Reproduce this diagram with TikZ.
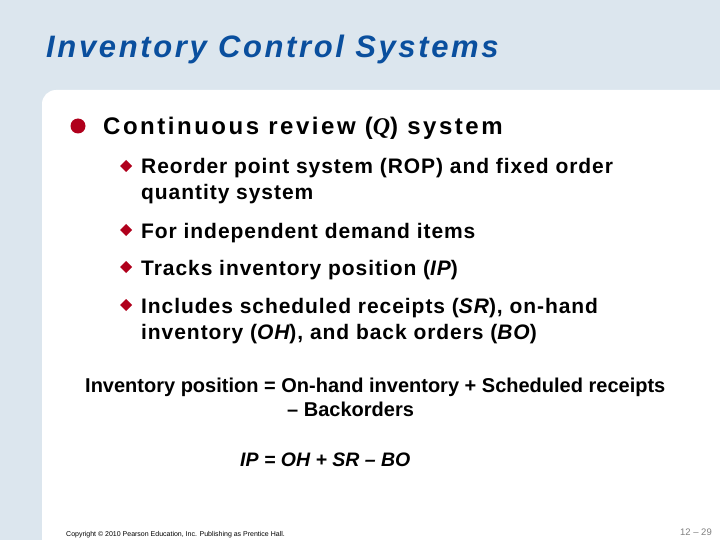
\documentclass[tikz,border=0pt]{standalone}
\usepackage{fontspec}
\setmainfont{Liberation Sans}
\newfontfamily\qfont{Liberation Serif}
\definecolor{bg}{HTML}{DCE6EE}
\definecolor{ttl}{HTML}{0A4F9E}
\definecolor{bul}{HTML}{B0001C}
\begin{document}
\begin{tikzpicture}[x=1pt,y=-1pt,
  txt/.style={anchor=base west,inner sep=0pt,font=\fontsize{21}{25}\selectfont\bfseries\addfontfeatures{LetterSpace=4.5}},
  big/.style={anchor=base west,inner sep=0pt,font=\fontsize{24}{28}\selectfont\bfseries\addfontfeatures{LetterSpace=10.5}},
  eq/.style={anchor=base west,inner sep=0pt,font=\fontsize{20}{22}\selectfont\bfseries}]
\useasboundingbox (0,0) rectangle (720,540);
\fill[bg] (0,0) rectangle (720,540);
\fill[white,rounded corners=14pt] (42,90) rectangle (740,560);
\node[anchor=base west,inner sep=0pt,text=ttl,font=\fontsize{31}{36}\selectfont\bfseries\itshape\addfontfeatures{LetterSpace=8.5}] (title) at (46,58) {Inventory Control Systems};
\fill[bul] (78,126) circle (7.5);
\node[big] (l1) at (103,135) {Continuous review ({\qfont\itshape Q}) system};
\foreach \y in {166,230,267,305}
  \fill[bul] (126,\y-6) -- (132,\y) -- (126,\y+6) -- (120,\y) -- cycle;
\node[txt] (a1) at (141,174) {Reorder point system (ROP) and fixed order};
\node[txt] (a2) at (141,200) {quantity system};
\node[txt] (b) at (141,238) {For independent demand items};
\node[txt] (c) at (141,275) {Tracks inventory position ({\itshape IP})};
\node[txt] (d1) at (141,313) {Includes scheduled receipts ({\itshape SR}), on-hand};
\node[txt] (d2) at (141,339) {inventory ({\itshape OH}), and back orders ({\itshape BO})};
\node[eq] (e1) at (85,392) {Inventory position = On-hand inventory + Scheduled receipts};
\node[eq] (e2) at (287,416) {– Backorders};
\node[eq,font=\fontsize{19.5}{22}\selectfont\bfseries\itshape] (e3) at (240,466) {IP = OH + SR – BO};
\node[anchor=base west,inner sep=0pt,font=\fontsize{7}{8}\selectfont] (cp) at (66,536) {Copyright © 2010 Pearson Education, Inc. Publishing as Prentice Hall.};
\node[anchor=base east,inner sep=0pt,text=gray,font=\fontsize{9.5}{11}\selectfont] (pg) at (712,535) {12 – 29};
\end{tikzpicture}
\end{document}
